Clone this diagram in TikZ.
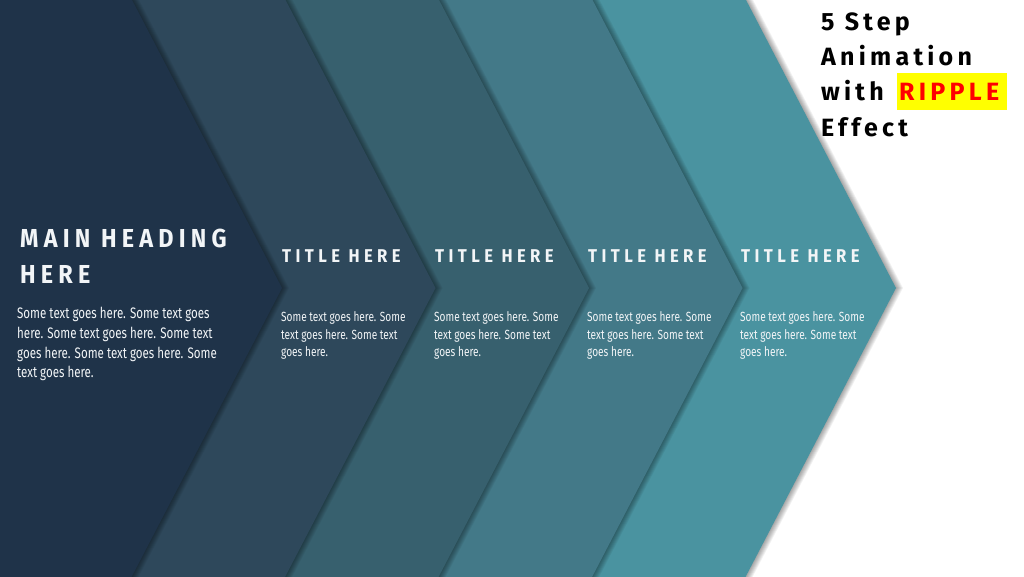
\documentclass[tikz,border=0pt]{standalone}
\usepackage{fontspec}
\setmainfont{Fira Sans}
\newfontfamily\headfont[FakeStretch=0.9,LetterSpace=24]{Fira Sans}
\newfontfamily\mainheadfont[FakeStretch=0.9,LetterSpace=20]{Fira Sans}
\newfontfamily\bodyfont[FakeStretch=0.76]{Fira Sans}
\newfontfamily\topfont[LetterSpace=17]{Fira Sans}
\definecolor{cA}{HTML}{1F3349}
\definecolor{cB}{HTML}{2E485B}
\definecolor{cC}{HTML}{37606E}
\definecolor{cD}{HTML}{437988}
\definecolor{cE}{HTML}{4A93A0}
\definecolor{txt}{HTML}{F2F5F7}
\definecolor{hiyel}{HTML}{FFFF00}
\definecolor{hired}{HTML}{FF0000}
\tikzset{
  heading/.style={inner sep=0pt, anchor=base west, text=txt, font=\mainheadfont\bfseries\fontsize{26}{30}\selectfont},
  titletxt/.style={inner sep=0pt, anchor=base west, text=txt, font=\headfont\bfseries\fontsize{18.5}{20}\selectfont},
  bigbody/.style={inner sep=0pt, anchor=base west, text=txt, font=\bodyfont\fontsize{15.2}{20}\selectfont},
  smallbody/.style={inner sep=0pt, anchor=base west, text=txt, font=\bodyfont\fontsize{13.3}{17}\selectfont},
  toptitle/.style={inner sep=0pt, anchor=base west, text=black, font=\topfont\bfseries\fontsize{25}{30}\selectfont},
}
\begin{document}
\begin{tikzpicture}[x=1pt,y=-1pt]
\useasboundingbox (0,0) rectangle (1024,576);
\fill[white] (-2,-2) rectangle (1026,578);
\foreach \i/\col in {4/cE,3/cD,2/cC,1/cB,0/cA} {
  \pgfmathsetmacro\T{131+153.5*\i}
  \foreach \k in {1,...,7} {
    \begin{scope}[xshift=\k pt]
      \fill[black,fill opacity=0.055] (-2,-2) -- (\T,-2) -- ({\T+151},288) -- (\T,578) -- (-2,578) -- cycle;
    \end{scope}
  }
  \fill[\col] (-2,-2) -- (\T,-2) -- ({\T+151},288) -- (\T,578) -- (-2,578) -- cycle;
}
% main heading
\node[heading] (mh1) at (20,247) {MAIN HEADING};
\node[heading] (mh2) at (20,283) {HERE};
\node[bigbody] (mb1) at (17,318) {Some text goes here. Some text goes};
\node[bigbody] (mb2) at (17,338) {here. Some text goes here. Some text};
\node[bigbody] (mb3) at (17,358) {goes here. Some text goes here. Some};
\node[bigbody] (mb4) at (17,377) {text goes here.};
% titles
\foreach \j/\xx in {1/282,2/435,3/588,4/741} {
  \node[titletxt] (t\j) at (\xx,262) {TITLE HERE};
  \node[smallbody] (s\j a) at (\xx-1,321) {Some text goes here. Some};
  \node[smallbody] (s\j b) at (\xx-1,339) {text goes here. Some text};
  \node[smallbody] (s\j c) at (\xx-1,356) {goes here.};
}
% top right title
\fill[hiyel] (897,73) rectangle (1007,110);
\node[toptitle] (tt1) at (821,30) {5 Step};
\node[toptitle] (tt2) at (821,65) {Animation};
\node[toptitle] (tt3) at (821,100) {with};
\node[toptitle, text=hired] (tt3b) at (899,100) {RIPPLE};
\node[toptitle] (tt4) at (821,136) {Effect};
\end{tikzpicture}
\end{document}
